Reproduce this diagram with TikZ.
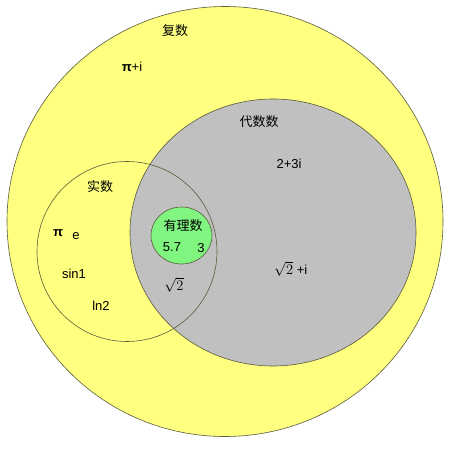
\documentclass[tikz,border=0pt]{standalone}
\usepackage{fontspec}
\setmainfont{Liberation Sans}
\newfontfamily\cjk{Noto Sans CJK SC}
\usepackage{tikz}
\definecolor{setyellow}{RGB}{255,255,128}
\definecolor{setgray}{RGB}{192,192,192}
\definecolor{setgreen}{RGB}{128,245,128}
\definecolor{setline}{RGB}{90,90,60}

\begin{document}
\begin{tikzpicture}[x=1pt,y=-1pt,
    rim/.style={draw=setline,line width=0.6pt},
    lbl/.style={inner sep=0pt,font=\fontsize{13}{15}\selectfont},
    zh/.style={lbl,font=\fontsize{13}{15}\selectfont\cjk},
    root/.style={lbl,font=\fontsize{15}{17}\selectfont}]
     \useasboundingbox (0,0) rectangle (450,450);
     \fill[white] (0,0) rectangle (450,450);
     % sets
     \draw[rim,fill=setyellow] (225,221.5) ellipse [x radius=218,y radius=215];
     \draw[rim,fill=setgray] (273,232.5) ellipse [x radius=143,y radius=133.5];
     \draw[rim] (127,251.5) circle [radius=90];
     \draw[rim,fill=setgreen] (181.5,235.5) ellipse [x radius=30.5,y radius=28.5];
     % labels
     \node[zh] (complex) at (175,31) {复数};
     \node[lbl] (pii) at (132,67) {\textbf{π}+i};
     \node[zh] (algebraic) at (259,122) {代数数};
     \node[lbl] (twothree) at (289,164) {2+3i};
     \node[zh] (real) at (100,187) {实数};
     \node[zh] (rational) at (183,226) {有理数};
     \node[lbl] (fiveseven) at (172,247) {5.7};
     \node[lbl] (three) at (201,248) {3};
     \node[lbl] (pi) at (58,233) {\textbf{π}};
     \node[lbl] (e) at (76,236) {e};
     \node[lbl] (sinone) at (74,274) {sin1};
     \node[lbl] (lntwo) at (101,306) {ln2};
     \node[root] (sqrttwo) at (174,285) {$\sqrt{2}$};
     \node[lbl,anchor=west] (sqrti) at (274,269) {{\fontsize{15}{17}\selectfont$\sqrt{2}$} +i};
    \end{tikzpicture}
\end{document}
